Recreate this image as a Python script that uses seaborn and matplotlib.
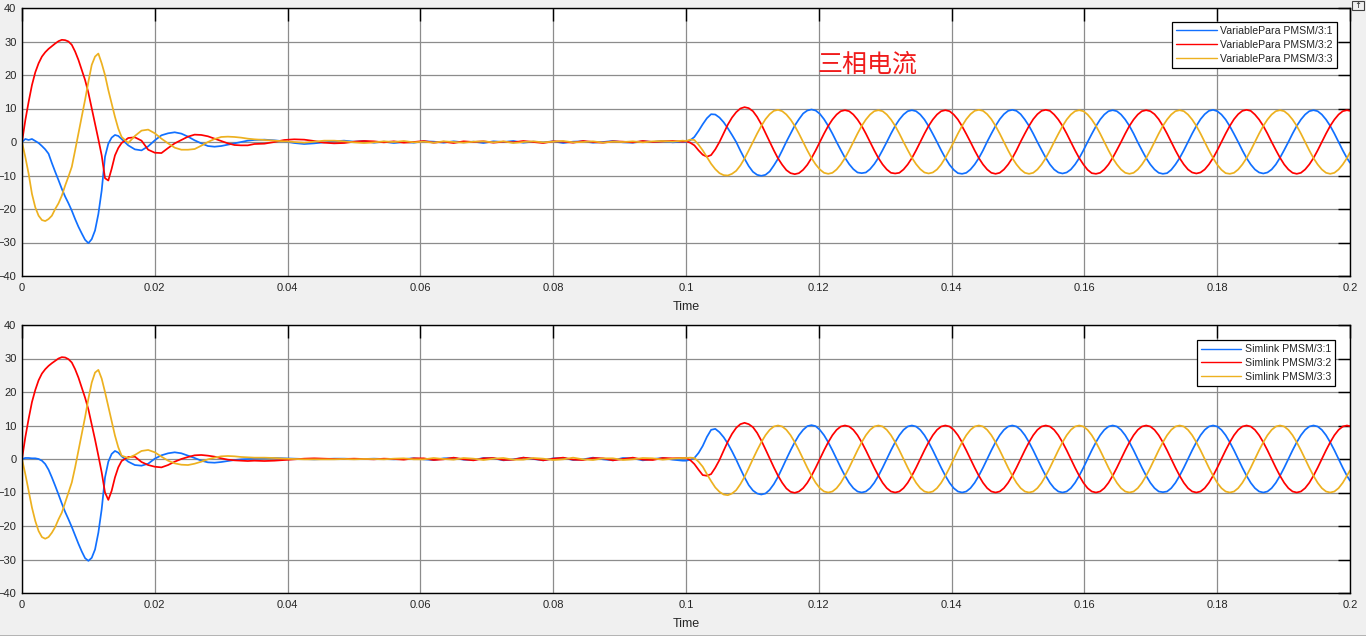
import matplotlib
matplotlib.use("Agg")
import matplotlib.pyplot as plt
from matplotlib.patches import Rectangle
from matplotlib.lines import Line2D
from matplotlib.ticker import FuncFormatter
import pandas as pd
import seaborn as sns

# sample times (s)
t_start = [0, 0.0005, 0.001, 0.0015, 0.002, 0.0025, 0.003, 0.0035, 0.004, 0.0045,
           0.005, 0.0055, 0.006, 0.0065, 0.007, 0.0075, 0.008, 0.0085, 0.009, 0.0095,
           0.010, 0.0105, 0.011, 0.0115, 0.012, 0.0125, 0.013, 0.0135, 0.014, 0.0145,
           0.015, 0.016, 0.017, 0.018, 0.019, 0.020, 0.021, 0.022, 0.023, 0.024,
           0.025, 0.026, 0.027, 0.028, 0.029, 0.030, 0.031, 0.032, 0.033, 0.034, 0.035]
t_tail = [0.0365, 0.038, 0.0395, 0.041, 0.0425, 0.044, 0.0455, 0.047, 0.0485, 0.05,
          0.0515, 0.053, 0.0545, 0.056, 0.0575, 0.059, 0.0605, 0.062, 0.0635, 0.065,
          0.0665, 0.068, 0.0695, 0.071, 0.0725, 0.074, 0.0755, 0.077, 0.0785, 0.08,
          0.0815, 0.083, 0.0845, 0.086, 0.0875, 0.089, 0.0905, 0.092, 0.0935, 0.095,
          0.0965, 0.098, 0.0995]
t_steady = [0.1, 0.10063, 0.10126, 0.10189, 0.10252, 0.10315, 0.10378, 0.10441, 0.10504, 0.10567,
            0.1063, 0.10693, 0.10756, 0.10819, 0.10882, 0.10945, 0.11008, 0.11071, 0.11134, 0.11197,
            0.1126, 0.11323, 0.11386, 0.11449, 0.11512, 0.11575, 0.11638, 0.11701, 0.11764, 0.11827,
            0.1189, 0.11953, 0.12016, 0.12079, 0.12142, 0.12205, 0.12268, 0.12331, 0.12394, 0.12457,
            0.1252, 0.12583, 0.12646, 0.12709, 0.12772, 0.12835, 0.12898, 0.12961, 0.13024, 0.13087,
            0.1315, 0.13213, 0.13276, 0.13339, 0.13402, 0.13465, 0.13528, 0.13591, 0.13654, 0.13717,
            0.1378, 0.13843, 0.13906, 0.13969, 0.14032, 0.14095, 0.14158, 0.14221, 0.14284, 0.14347,
            0.1441, 0.14473, 0.14536, 0.14599, 0.14662, 0.14725, 0.14788, 0.14851, 0.14914, 0.14977,
            0.1504, 0.15103, 0.15166, 0.15229, 0.15292, 0.15355, 0.15418, 0.15481, 0.15544, 0.15607,
            0.1567, 0.15733, 0.15796, 0.15859, 0.15922, 0.15985, 0.16048, 0.16111, 0.16174, 0.16237,
            0.163, 0.16363, 0.16426, 0.16489, 0.16552, 0.16615, 0.16678, 0.16741, 0.16804, 0.16867,
            0.1693, 0.16993, 0.17056, 0.17119, 0.17182, 0.17245, 0.17308, 0.17371, 0.17434, 0.17497,
            0.1756, 0.17623, 0.17686, 0.17749, 0.17812, 0.17875, 0.17938, 0.18001, 0.18064, 0.18127,
            0.1819, 0.18253, 0.18316, 0.18379, 0.18442, 0.18505, 0.18568, 0.18631, 0.18694, 0.18757,
            0.1882, 0.18883, 0.18946, 0.19009, 0.19072, 0.19135, 0.19198, 0.19261, 0.19324, 0.19387,
            0.1945, 0.19513, 0.19576, 0.19639, 0.19702, 0.19765, 0.19828, 0.19891, 0.19954, 0.2]

# ---- upper scope: VariablePara PMSM ----
top_a_start = [0, 0.9, 0.6, 0.9, 0.3, -0.3, -1.2, -2.2, -3.5, -6.3, -8.9, -11.4, -14.0, -16.3, -18.3,
               -20.5, -23.0, -25.3, -27.3, -29.2, -30.2, -29.0, -26.4, -21.5, -14.5, -4.4, -0.5, 1.3,
               2.1, 1.8, 0.9, -1.0, -2.2, -2.5, -1.3, 0.5, 2.0, 2.6, 2.9, 2.5, 1.6, 0.5, -0.4, -1.2,
               -1.4, -1.2, -0.8, -0.4, 0.0, 0.4, 0.6]
top_b_start = [0, 6.5, 12.0, 17.0, 20.8, 23.5, 25.5, 26.8, 27.8, 28.6, 29.4, 30.1, 30.5, 30.4, 30.0,
               29.0, 27.0, 24.5, 21.5, 18.5, 14.7, 10.1, 5.5, 0.8, -4.0, -10.8, -11.5, -8.0, -4.0,
               -1.8, -0.3, 1.2, 1.4, 0.4, -2.3, -3.2, -3.3, -1.8, -0.4, 0.6, 1.6, 2.2, 2.1, 1.7, 1.0,
               0.3, -0.4, -0.9, -1.0, -1.0, -0.6]
top_c_start = [0, -4.5, -9.5, -15.5, -19.5, -22.0, -23.3, -23.6, -23.0, -22.0, -20.0, -18.3, -16.0,
               -13.0, -10.3, -7.4, -2.5, 2.6, 7.6, 12.6, 18.0, 23.0, 25.5, 26.4, 23.5, 20.0, 15.5,
               11.5, 7.5, 4.0, 1.5, -0.3, 1.8, 3.4, 3.7, 2.6, 1.0, -0.4, -1.7, -2.3, -2.3, -2.1,
               -1.1, 0.0, 0.9, 1.5, 1.6, 1.5, 1.3, 1.0, 0.8]
top_a_tail = [0.7, 0.5, 0.2, -0.3, -0.6, -0.4, -0.1, 0.2, 0.4, 0.1,
              0.3, -0.2, 0.1, -0.3, 0.0, -0.2, 0.2, 0.1, -0.2, 0.2,
              -0.1, 0.1, -0.3, 0.2, 0.0, 0.3, -0.2, 0.1, -0.1, 0.2,
              -0.3, 0.1, 0.2, -0.2, 0.0, 0.3, -0.1, -0.2, 0.2, 0.0,
              0.3, -0.1, 0.1]
top_b_tail = [-0.5, 0.0, 0.6, 0.8, 0.7, 0.3, -0.2, -0.4, -0.3, 0.1,
              0.3, 0.2, -0.1, 0.2, -0.2, 0.0, 0.3, -0.2, 0.1, -0.3,
              0.2, 0.0, 0.2, -0.2, 0.1, -0.1, 0.3, 0.0, -0.3, 0.2,
              0.1, -0.2, 0.3, 0.0, -0.2, 0.2, 0.1, -0.1, 0.3, 0.0,
              0.2, 0.3, 0.1]
top_c_tail = [0.6, 0.4, 0.2, 0.0, -0.2, 0.1, 0.4, 0.4, 0.2, -0.1,
              -0.3, -0.1, 0.2, 0.0, 0.3, -0.1, 0.1, -0.2, 0.2, 0.0,
              -0.2, 0.1, 0.2, -0.1, 0.2, -0.3, 0.0, 0.2, -0.1, 0.1,
              0.3, -0.1, 0.0, 0.2, -0.2, 0.1, 0.0, 0.2, -0.1, 0.2,
              0.3, 0.1, 0.4]
top_a_steady = [
    0.0, 0.5, 1.5, 3.3, 5.3, 7.1, 8.3, 8.2, 7.3, 5.9, 4.1, 2.1, 0.0, -2.6, -5.0, -7.2, -8.9, -9.8, -10.1, -9.8, -8.8, -7.0, -5.0, -2.5,
    0.1, 2.5, 4.9, 6.8, 8.5, 9.4, 9.7, 9.4, 8.4, 6.8, 4.8, 2.5, 0.0, -2.4, -4.7, -6.6, -8.1, -9.1, -9.3, -9.1, -8.1, -6.6, -4.7, -2.4,
    0.0, 2.5, 4.8, 6.7, 8.2, 9.2, 9.5, 9.2, 8.2, 6.7, 4.7, 2.4, 0.0, -2.5, -4.8, -6.8, -8.3, -9.3, -9.5, -9.2, -8.2, -6.7, -4.8, -2.5,
    0.1, 2.5, 4.8, 6.8, 8.3, 9.3, 9.6, 9.3, 8.3, 6.7, 4.8, 2.5, 0.0, -2.4, -4.7, -6.7, -8.2, -9.1, -9.4, -9.1, -8.2, -6.7, -4.8, -2.5,
    0.0, 2.4, 4.7, 6.7, 8.2, 9.2, 9.5, 9.2, 8.2, 6.7, 4.8, 2.5, -0.1, -2.5, -4.8, -6.7, -8.2, -9.2, -9.5, -9.3, -8.3, -6.7, -4.8, -2.5,
    0.0, 2.5, 4.8, 6.8, 8.3, 9.3, 9.6, 9.2, 8.2, 6.7, 4.7, 2.4, 0.0, -2.5, -4.8, -6.7, -8.2, -9.1, -9.4, -9.1, -8.2, -6.7, -4.7, -2.4,
    0.0, 2.5, 4.8, 6.7, 8.2, 9.2, 9.5, 9.2, 8.2, 6.7, 4.8, 2.5, 0.0, -2.5, -4.8, -6.2]
top_b_steady = [
    0.2, -0.2, -1.0, -2.5, -3.8, -4.4, -3.9, -2.2, 0.0, 2.6, 5.2, 7.3, 8.9, 10.0, 10.4, 10.1, 9.2, 7.5, 5.3, 2.7, 0.1, -2.5, -4.9, -6.8,
    -8.4, -9.3, -9.6, -9.3, -8.3, -6.8, -4.8, -2.5,
    0.0, 2.5, 4.8, 6.7, 8.2, 9.2, 9.5, 9.2, 8.2, 6.7, 4.8, 2.5, 0.0, -2.5, -4.8, -6.7, -8.2, -9.2, -9.4, -9.2, -8.2, -6.7, -4.8, -2.5,
    0.0, 2.5, 4.8, 6.7, 8.2, 9.2, 9.5, 9.2, 8.2, 6.7, 4.7, 2.4, 0.0, -2.5, -4.8, -6.7, -8.2, -9.2, -9.5, -9.2, -8.2, -6.7, -4.8, -2.5,
    0.1, 2.5, 4.8, 6.8, 8.3, 9.3, 9.6, 9.3, 8.2, 6.7, 4.8, 2.5, 0.0, -2.5, -4.8, -6.7, -8.3, -9.3, -9.5, -9.2, -8.2, -6.7, -4.7, -2.4,
    0.0, 2.5, 4.8, 6.7, 8.2, 9.2, 9.5, 9.2, 8.3, 6.8, 4.8, 2.5, 0.0, -2.5, -4.8, -6.7, -8.2, -9.1, -9.4, -9.1, -8.2, -6.7, -4.8, -2.5,
    0.0, 2.5, 4.8, 6.8, 8.3, 9.3, 9.6, 9.3, 8.2, 6.7, 4.8, 2.5, 0.0, -2.4, -4.7, -6.7, -8.2, -9.2, -9.5, -9.2, -8.2, -6.7, -4.8, -2.5,
    0.0, 2.5, 4.8, 6.7, 8.2, 9.2, 9.5, 9.3]
top_c_steady = [
    0.3, 0.7, 0.6, -0.8, -2.5, -4.5, -6.5, -8.1, -9.3, -9.9, -10.0, -9.5, -8.6, -7.0, -4.9, -2.5,
    0.0, 2.5, 4.8, 6.8, 8.3, 9.3, 9.6, 9.2, 8.2, 6.7, 4.8, 2.5, 0.0, -2.5, -4.8, -6.7, -8.2, -9.2, -9.5, -9.2, -8.2, -6.7, -4.8, -2.5,
    0.0, 2.5, 4.8, 6.7, 8.2, 9.2, 9.5, 9.2, 8.2, 6.7, 4.8, 2.5, 0.0, -2.4, -4.7, -6.6, -8.1, -9.1, -9.4, -9.1, -8.2, -6.7, -4.7, -2.4,
    0.0, 2.5, 4.8, 6.8, 8.3, 9.3, 9.6, 9.3, 8.3, 6.8, 4.8, 2.5, 0.0, -2.5, -4.8, -6.7, -8.2, -9.2, -9.5, -9.2, -8.2, -6.7, -4.8, -2.5,
    0.0, 2.4, 4.7, 6.7, 8.2, 9.2, 9.5, 9.2, 8.2, 6.7, 4.8, 2.5, 0.0, -2.5, -4.8, -6.7, -8.2, -9.2, -9.5, -9.2, -8.2, -6.7, -4.8, -2.5,
    0.0, 2.5, 4.8, 6.7, 8.2, 9.2, 9.5, 9.2, 8.2, 6.7, 4.8, 2.5, 0.0, -2.5, -4.8, -6.8, -8.3, -9.3, -9.5, -9.2, -8.2, -6.7, -4.8, -2.5,
    0.0, 2.5, 4.8, 6.7, 8.2, 9.2, 9.5, 9.2, 8.2, 6.7, 4.8, 2.5, 0.0, -2.5, -4.8, -6.7, -8.2, -9.2, -9.5, -9.2, -8.2, -6.7, -4.8,
    -3.1]

# ---- lower scope: Simlink PMSM ----
bot_a_start = [0, 0.3, 0.3, 0.2, 0.2, 0.0, -0.5, -1.5, -3.2, -5.5, -8.0, -10.6, -13.3, -15.8, -18.0,
               -20.3, -22.8, -25.3, -27.6, -29.6, -30.4, -29.5, -27.0, -22.0, -15.0, -5.5, -0.8,
               1.5, 2.4, 1.9, 0.8, -0.8, -1.8, -2.0, -1.4, 0.1, 1.1, 1.7, 2.0, 1.7, 1.0, 0.3, -0.5,
               -1.0, -1.1, -0.9, -0.6, -0.3, -0.1, 0.0, 0.1]
bot_b_start = [0, 6.5, 12.0, 17.0, 20.6, 23.5, 25.5, 26.8, 27.8, 28.6, 29.3, 30.0, 30.4, 30.3, 29.8,
               28.8, 26.8, 24.3, 21.3, 18.3, 14.8, 10.3, 5.8, 1.0, -4.0, -10.0, -12.2, -9.5, -5.5,
               -2.5, -0.6, 0.6, 0.7, -0.9, -1.8, -2.3, -2.5, -1.8, -0.8, 0.0, 0.6, 1.1, 1.2, 1.0,
               0.7, 0.2, -0.2, -0.4, -0.5, -0.6, -0.5]
bot_c_start = [0, -4.5, -9.5, -14.5, -18.5, -21.5, -23.3, -23.8, -23.3, -22.0, -20.3, -18.0, -16.0,
               -13.0, -10.0, -7.0, -2.5, 2.5, 7.5, 12.5, 18.0, 22.8, 25.8, 26.6, 24.0, 20.0, 15.7,
               11.5, 7.0, 3.5, 1.0, 0.3, 1.2, 2.4, 2.7, 2.0, 0.7, -0.5, -1.3, -1.7, -1.8, -1.4,
               -0.8, -0.1, 0.4, 0.8, 0.9, 0.8, 0.6, 0.5, 0.4]
bot_a_tail = [0.2, 0.3, 0.2, 0.1, 0.0, -0.1, 0.0, 0.1, 0.1, 0.0,
              0.0, 0.1, 0.0, -0.1, 0.0, 0.2, -0.1, -0.3, 0.2, 0.3,
              -0.2, -0.3, 0.3, 0.2, -0.4, -0.1, 0.4, 0.0, -0.4, 0.2,
              0.3, -0.3, -0.1, 0.4, -0.1, -0.4, 0.3, 0.2, -0.4, 0.0,
              0.3, -0.2, -0.5]
bot_b_tail = [-0.6, -0.5, -0.3, -0.1, 0.1, 0.2, 0.1, 0.0, 0.0, 0.1,
              0.0, -0.1, 0.1, 0.0, -0.2, 0.2, 0.2, -0.3, -0.1, 0.4,
              -0.1, -0.4, 0.2, 0.3, -0.3, -0.2, 0.4, 0.1, -0.4, 0.1,
              0.4, -0.2, -0.3, 0.3, 0.2, -0.4, 0.0, 0.4, -0.2, -0.3,
              0.3, 0.2, 0.3]
bot_c_tail = [0.4, 0.3, 0.1, 0.0, -0.1, -0.1, -0.1, -0.1, 0.0, -0.1,
              0.0, 0.0, -0.1, 0.1, 0.2, -0.1, -0.1, 0.3, 0.0, -0.2,
              0.3, 0.1, -0.3, 0.1, 0.3, -0.2, -0.2, 0.3, 0.1, -0.3,
              -0.1, 0.4, -0.1, -0.3, 0.2, 0.2, -0.3, -0.1, 0.3, 0.2,
              -0.2, 0.1, 0.3]
bot_a_steady = [
    -0.5, -0.2, 0.3, 1.8, 3.9, 6.6, 8.7, 9.0, 8.0, 6.5, 4.6, 2.3, -0.2, -2.9, -5.5, -7.8, -9.4, -10.3, -10.6, -10.3, -9.2, -7.5, -5.3, -2.7,
    0.0, 2.6, 5.0, 7.1, 8.7, 9.8, 10.1, 9.8, 8.7, 7.1, 5.0, 2.6, 0.0, -2.6, -5.0, -7.1, -8.7, -9.7, -10.0, -9.7, -8.7, -7.1, -5.0, -2.6,
    0.0, 2.6, 5.0, 7.1, 8.7, 9.7, 10.0, 9.7, 8.7, 7.1, 5.0, 2.6, 0.0, -2.6, -5.0, -7.1, -8.7, -9.7, -10.0, -9.7, -8.7, -7.1, -5.0, -2.6,
    0.0, 2.6, 5.0, 7.1, 8.7, 9.7, 10.0, 9.7, 8.7, 7.1, 5.0, 2.6, 0.0, -2.6, -5.0, -7.1, -8.7, -9.7, -10.0, -9.7, -8.7, -7.1, -5.0, -2.6,
    0.0, 2.6, 5.0, 7.1, 8.7, 9.7, 10.0, 9.7, 8.7, 7.1, 5.0, 2.6, 0.0, -2.6, -5.0, -7.1, -8.7, -9.7, -9.9, -9.7, -8.7, -7.1, -5.0, -2.6,
    0.0, 2.6, 5.0, 7.1, 8.7, 9.7, 10.0, 9.7, 8.7, 7.1, 5.0, 2.6, 0.0, -2.6, -5.0, -7.1, -8.7, -9.7, -10.0, -9.7, -8.7, -7.1, -5.0, -2.6,
    0.0, 2.6, 5.0, 7.1, 8.7, 9.7, 10.0, 9.7, 8.7, 7.1, 5.0, 2.6, 0.0, -2.6, -5.0, -6.5]
bot_b_steady = [
    0.3, -0.3, -1.5, -3.2, -4.8, -5.0, -4.5, -2.6, -0.3, 2.5, 5.2, 7.5, 9.3, 10.4, 10.8, 10.4, 9.5, 7.8, 5.5, 2.9, 0.2, -2.5, -5.0, -7.1,
    -8.8, -9.8, -10.1, -9.7, -8.7, -7.1, -5.0, -2.6,
    0.0, 2.6, 5.0, 7.1, 8.7, 9.7, 10.0, 9.7, 8.7, 7.1, 5.0, 2.6, 0.0, -2.6, -5.0, -7.1, -8.7, -9.7, -10.0, -9.7, -8.7, -7.1, -5.0, -2.6,
    0.0, 2.6, 5.0, 7.1, 8.7, 9.7, 10.0, 9.7, 8.7, 7.1, 5.0, 2.6, 0.0, -2.6, -5.0, -7.1, -8.7, -9.7, -10.0, -9.7, -8.7, -7.1, -5.0, -2.6,
    0.0, 2.6, 5.0, 7.1, 8.7, 9.7, 10.0, 9.7, 8.7, 7.1, 5.0, 2.6, 0.0, -2.6, -5.0, -7.1, -8.7, -9.7, -10.0, -9.7, -8.7, -7.1, -5.0, -2.6,
    0.0, 2.6, 5.0, 7.1, 8.7, 9.7, 10.0, 9.7, 8.7, 7.1, 5.0, 2.6, 0.0, -2.6, -5.0, -7.1, -8.7, -9.7, -10.0, -9.7, -8.7, -7.1, -5.0, -2.6,
    0.0, 2.6, 5.0, 7.1, 8.7, 9.7, 10.0, 9.7, 8.7, 7.1, 5.0, 2.6, 0.0, -2.6, -5.0, -7.1, -8.7, -9.7, -10.0, -9.7, -8.7, -7.1, -5.0, -2.6,
    0.0, 2.6, 5.0, 7.1, 8.7, 9.7, 10.0, 9.8]
bot_c_steady = [
    0.3, 0.4, 0.3, -0.8, -2.3, -4.5, -6.6, -8.5, -9.8, -10.6, -10.8, -10.3, -9.3, -7.5, -5.3, -2.7,
    0.0, 2.6, 5.0, 7.1, 8.7, 9.7, 10.0, 9.7, 8.7, 7.1, 5.0, 2.6, 0.0, -2.6, -5.0, -7.1, -8.7, -9.7, -10.0, -9.7, -8.7, -7.1, -5.0, -2.6,
    0.0, 2.6, 5.0, 7.1, 8.7, 9.7, 10.0, 9.7, 8.7, 7.1, 5.0, 2.6, 0.0, -2.6, -5.0, -7.1, -8.7, -9.7, -10.0, -9.7, -8.7, -7.1, -5.0, -2.6,
    0.0, 2.6, 5.0, 7.1, 8.7, 9.7, 10.0, 9.7, 8.7, 7.1, 5.0, 2.6, 0.0, -2.6, -5.0, -7.1, -8.7, -9.7, -10.0, -9.7, -8.7, -7.1, -5.0, -2.6,
    0.0, 2.6, 5.0, 7.1, 8.7, 9.7, 10.0, 9.7, 8.7, 7.1, 5.0, 2.6, 0.0, -2.6, -5.0, -7.1, -8.7, -9.7, -10.0, -9.7, -8.7, -7.1, -5.0, -2.6,
    0.0, 2.6, 5.0, 7.1, 8.7, 9.7, 10.0, 9.7, 8.7, 7.1, 5.0, 2.6, 0.0, -2.6, -5.0, -7.1, -8.7, -9.7, -10.0, -9.7, -8.7, -7.1, -5.0, -2.6,
    0.0, 2.6, 5.0, 7.1, 8.7, 9.7, 10.0, 9.7, 8.7, 7.1, 5.0, 2.6, 0.0, -2.6, -5.0, -7.1, -8.7, -9.7, -10.0, -9.7, -8.7, -7.1, -5.0,
    -3.4]

top_labels = ["VariablePara PMSM/3:1", "VariablePara PMSM/3:2", "VariablePara PMSM/3:3"]
bot_labels = ["Simlink PMSM/3:1", "Simlink PMSM/3:2", "Simlink PMSM/3:3"]
line_colors = ["#1170ff", "#ff0000", "#edb120"]
x_ticks = [0, 0.02, 0.04, 0.06, 0.08, 0.1, 0.12, 0.14, 0.16, 0.18, 0.2]
y_ticks = [-40, -30, -20, -10, 0, 10, 20, 30, 40]


def make_frame(series, labels):
    t = t_start + t_tail + t_steady
    frames = []
    for vals, lab in zip(series, labels):
        assert len(vals) == len(t), (lab, len(vals), len(t))
        frames.append(pd.DataFrame({"Time": t, "value": vals, "signal": lab}))
    return pd.concat(frames, ignore_index=True)


top_df = make_frame([top_a_start + top_a_tail + top_a_steady,
                     top_b_start + top_b_tail + top_b_steady,
                     top_c_start + top_c_tail + top_c_steady], top_labels)
bot_df = make_frame([bot_a_start + bot_a_tail + bot_a_steady,
                     bot_b_start + bot_b_tail + bot_b_steady,
                     bot_c_start + bot_c_tail + bot_c_steady], bot_labels)

sns.set_style("white")
plt.rcParams["font.family"] = ["Liberation Sans", "DejaVu Sans"]

fig = plt.figure(figsize=(13.66, 6.36), dpi=100, facecolor="#f0f0f0")
ax_top = fig.add_axes([22 / 1366, 1 - 276 / 636, 1328 / 1366, 268 / 636])
ax_bot = fig.add_axes([22 / 1366, 1 - 593 / 636, 1328 / 1366, 268 / 636])


def draw_scope(ax, df, labels, leg_anchor):
    sns.lineplot(data=df, x="Time", y="value", hue="signal", hue_order=labels,
                 palette=dict(zip(labels, line_colors)), estimator=None, sort=False,
                 lw=1.25, ax=ax)
    ax.set_facecolor("white")
    ax.set_xlim(0, 0.2)
    ax.set_ylim(-40, 40)
    ax.set_xticks(x_ticks)
    ax.set_yticks(y_ticks)
    ax.xaxis.set_major_formatter(FuncFormatter(lambda v, p: f"{v:g}"))
    ax.grid(True, color="#8c8c8c", lw=0.9)
    ax.set_axisbelow(True)
    for sp in ax.spines.values():
        sp.set_visible(True)
        sp.set_color("black")
        sp.set_linewidth(1.0)
    ax.tick_params(direction="in", length=9, width=1.0, top=True, right=True,
                   labelsize=8, colors="black", labelcolor="#262626", pad=4)
    ax.tick_params(axis="x", pad=5)
    ax.set_xlabel("Time", fontsize=9, labelpad=6, color="#262626")
    ax.set_ylabel("")
    handles, labs = ax.get_legend_handles_labels()
    leg = ax.legend(handles, labs, loc="upper right", bbox_to_anchor=leg_anchor,
                    borderaxespad=0, fancybox=False, edgecolor="black", framealpha=1,
                    fontsize=7.6, handlelength=3.8, labelspacing=0.35, borderpad=0.4,
                    handletextpad=0.35)
    leg.get_frame().set_linewidth(0.9)
    for ln in leg.get_lines():
        ln.set_linewidth(1.0)


draw_scope(ax_top, top_df, top_labels, (0.9902, 0.948))
draw_scope(ax_bot, bot_df, bot_labels, (0.9889, 0.944))

ax_top.text(0.5986, 0.787, "三相电流", transform=ax_top.transAxes, ha="left", va="center",
            fontsize=18, color="#f01c1c", family=["Noto Sans CJK SC", "DejaVu Sans"])

# window chrome: small undock button at top right, frame line at the bottom
fig.patches.append(Rectangle((1352 / 1366, 626 / 636), 12 / 1366, 9 / 636,
                             transform=fig.transFigure, fill=False, ec="#404040", lw=0.8))
fig.text(1358 / 1366, 630.5 / 636, "↑", ha="center", va="center", fontsize=6,
         color="#202020", family=["DejaVu Sans"])
fig.lines.append(Line2D([0, 1], [0.5 / 636, 0.5 / 636], transform=fig.transFigure,
                        color="#a8a8a8", lw=1.2))

fig.savefig("out.png", dpi=100, facecolor=fig.get_facecolor())
